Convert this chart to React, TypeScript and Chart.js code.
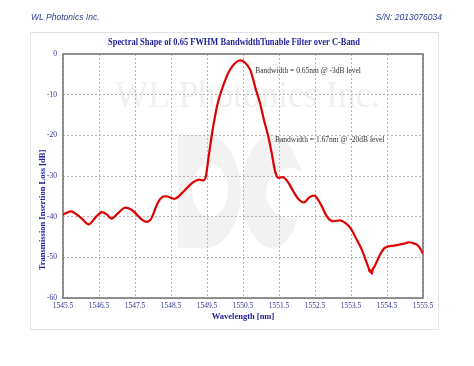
import React, { useEffect, useRef } from "react";
import { Chart, registerables } from "chart.js";

Chart.register(...registerables);

const wavelengths = [
  1545.5, 1545.73, 1546.0, 1546.22, 1546.42, 1546.58, 1546.72, 1546.85, 1547.02, 1547.22,
  1547.45, 1547.65, 1547.82, 1547.95, 1548.12, 1548.25, 1548.38, 1548.61, 1548.85, 1549.1,
  1549.28, 1549.4, 1549.46, 1549.55, 1549.65, 1549.72, 1549.8, 1549.95, 1550.1, 1550.25,
  1550.4, 1550.55, 1550.7, 1550.85, 1550.97, 1551.07, 1551.2, 1551.3, 1551.39, 1551.47,
  1551.62, 1551.75, 1551.9, 1552.05, 1552.2, 1552.35, 1552.5, 1552.65, 1552.82, 1552.97,
  1553.2, 1553.35, 1553.5, 1553.65, 1553.8, 1553.92, 1553.99, 1554.02, 1554.05, 1554.08,
  1554.11, 1554.15, 1554.22, 1554.31, 1554.42, 1554.54, 1554.7, 1554.82, 1554.95, 1555.1,
  1555.22, 1555.33, 1555.42, 1555.5,
];
const lossDb = [
  -39.5, -38.7, -40.3, -41.9, -40.0, -38.9, -39.5, -40.5, -39.2, -37.8,
  -38.6, -40.4, -41.3, -40.5, -36.8, -35.2, -35.0, -35.6, -33.8, -31.6,
  -30.9, -31.1, -30.4, -25.0, -19.0, -15.5, -12.0, -7.8, -4.5, -2.5,
  -1.6, -2.1, -3.9, -8.5, -12.0, -15.8, -20.2, -24.5, -28.8, -30.4,
  -30.3, -31.5, -33.8, -35.8, -36.5, -35.2, -34.9, -36.8, -39.8, -41.1,
  -40.9, -41.6, -43.0, -45.5, -48.1, -51.0, -52.6, -53.5, -53.2, -54.0,
  -52.8, -52.3, -51.0, -49.3, -47.8, -47.3, -47.1, -46.9, -46.7, -46.3,
  -46.5, -46.9, -47.8, -49.1,
];
const xTicks = [1545.5, 1546.5, 1547.5, 1548.5, 1549.5, 1550.5, 1551.5, 1552.5, 1553.5, 1554.5, 1555.5];
const yTicks = [-60, -50, -40, -30, -20, -10, 0];

const headerLeft = "WL Photonics Inc.";
const headerRight = "S/N: 2013076034";
const chartTitle = "Spectral Shape of 0.65 FWHM BandwidthTunable Filter over C-Band";
const xTitle = "Wavelength [nm]";
const yTitle = "Transmission Insertion Loss [dB]";
const watermark = "WL Photonics Inc.";
const noteTexts = ["Bandwidth = 0.65nm @ -3dB level", "Bandwidth = 1.67nm @ -20dB level"];
const noteX = [1550.84, 1551.39];
const noteY = [-4.3, -21.2];

const SERIF = '"Liberation Serif", "DejaVu Serif", serif';
const SANS = '"Liberation Sans", Arial, sans-serif';
const BLUE = "#3434a0";

const decor = {
  id: "decor",
  beforeDraw(chart: any) {
    const ctx = chart.ctx;
    const { left, top, right, bottom } = chart.chartArea;
    ctx.save();
    ctx.fillStyle = "#ffffff";
    ctx.fillRect(0, 0, chart.width, chart.height);
    ctx.strokeStyle = "#e2e2e2";
    ctx.lineWidth = 1;
    ctx.strokeRect(30.5, 32.5, 408, 297);
    ctx.fillStyle = "#2d3c96";
    ctx.font = `italic 8.5px ${SANS}`;
    ctx.textBaseline = "middle";
    ctx.textAlign = "left";
    ctx.fillText(headerLeft, 31, 18);
    ctx.textAlign = "right";
    ctx.fillText(headerRight, 442, 18);
    ctx.fillStyle = "#1e1e9a";
    ctx.font = `bold 10.5px ${SERIF}`;
    ctx.textAlign = "center";
    ctx.fillText(chartTitle, 234, 42, 252);
    ctx.beginPath();
    ctx.rect(left, top, right - left, bottom - top);
    ctx.clip();
    ctx.fillStyle = "#f2f2f2";
    ctx.beginPath();
    ctx.moveTo(178, 135);
    ctx.lineTo(205, 135);
    ctx.ellipse(205, 191.5, 36, 56.5, 0, -Math.PI / 2, Math.PI / 2);
    ctx.lineTo(178, 248);
    ctx.closePath();
    ctx.moveTo(228, 190);
    ctx.ellipse(210, 190, 18, 27, 0, 0, Math.PI * 2);
    ctx.fill("evenodd");
    ctx.beginPath();
    ctx.ellipse(272, 191.5, 30, 56.5, 0, -Math.PI / 4, Math.PI / 4, true);
    ctx.lineTo(298, 215);
    ctx.ellipse(290, 193, 24, 25, 0, Math.PI / 3, -Math.PI / 3, false);
    ctx.closePath();
    ctx.fill();
    ctx.fillStyle = "#f0f0f0";
    ctx.font = `38px ${SERIF}`;
    ctx.textAlign = "left";
    ctx.textBaseline = "alphabetic";
    ctx.fillText(watermark, 115, 107, 265);
    ctx.restore();
  },
  beforeDatasetsDraw(chart: any) {
    const ctx = chart.ctx;
    const { left, top, right, bottom } = chart.chartArea;
    ctx.save();
    ctx.strokeStyle = "#707070";
    ctx.lineWidth = 1.5;
    ctx.strokeRect(left, top, right - left, bottom - top);
    ctx.restore();
  },
  afterDraw(chart: any) {
    const ctx = chart.ctx;
    const xs = chart.scales.x;
    const ys = chart.scales.y;
    ctx.save();
    ctx.fillStyle = "#333333";
    ctx.font = `7.5px ${SERIF}`;
    ctx.textAlign = "left";
    ctx.textBaseline = "middle";
    noteTexts.forEach((t, i) => {
      ctx.fillText(t, xs.getPixelForValue(noteX[i]), ys.getPixelForValue(noteY[i]));
    });
    ctx.fillStyle = "#2222a0";
    ctx.font = `bold 8.5px ${SERIF}`;
    ctx.textAlign = "center";
    ctx.fillText(xTitle, 243, 317);
    ctx.translate(43, 210);
    ctx.rotate(-Math.PI / 2);
    ctx.fillText(yTitle, 0, 0, 168);
    ctx.restore();
  },
};

export default function App() {
  const ref = useRef<HTMLCanvasElement>(null);
  useEffect(() => {
    const points = wavelengths.map((w, i) => ({ x: w, y: lossDb[i] }));
    const chart = new Chart(ref.current!, {
      type: "line",
      data: {
        datasets: [
          {
            data: points,
            borderColor: "#e00000",
            borderWidth: 2.2,
            pointRadius: 0,
            tension: 0.3,
            fill: false,
          },
        ],
      },
      plugins: [decor],
      options: {
        animation: false,
        responsive: false,
        devicePixelRatio: 1,
        layout: { padding: { left: 0, top: 54, right: 51, bottom: 48 } },
        plugins: { legend: { display: false }, tooltip: { enabled: false } },
        scales: {
          x: {
            type: "linear",
            min: xTicks[0],
            max: xTicks[xTicks.length - 1],
            afterBuildTicks: (s: any) => {
              s.ticks = xTicks.map((v) => ({ value: v }));
            },
            afterFit: (s: any) => {
              s.height = 20;
            },
            grid: { color: "#b4b4b4", lineWidth: 1, drawTicks: false },
            border: { display: false, dash: [2, 2] },
            ticks: {
              color: BLUE,
              font: { family: SERIF, size: 7.5 },
              padding: 4,
              maxRotation: 0,
              autoSkip: false,
              callback: (v: any) => Number(v).toFixed(1),
            },
          },
          y: {
            type: "linear",
            min: yTicks[0],
            max: yTicks[yTicks.length - 1],
            afterBuildTicks: (s: any) => {
              s.ticks = yTicks.map((v) => ({ value: v }));
            },
            afterFit: (s: any) => {
              s.width = 63;
            },
            grid: { color: "#b4b4b4", lineWidth: 1, drawTicks: false },
            border: { display: false, dash: [2, 2] },
            ticks: {
              color: BLUE,
              font: { family: SERIF, size: 7.5 },
              padding: 6,
              autoSkip: false,
              callback: (v: any) => String(v),
            },
          },
        },
      },
    } as any);
    return () => chart.destroy();
  }, []);
  return (
    <div style={{ position: "fixed", left: 0, top: 0, width: 474, height: 366, background: "#fff" }}>
      <canvas ref={ref} width={474} height={366} style={{ display: "block", width: 474, height: 366 }} />
    </div>
  );
}
